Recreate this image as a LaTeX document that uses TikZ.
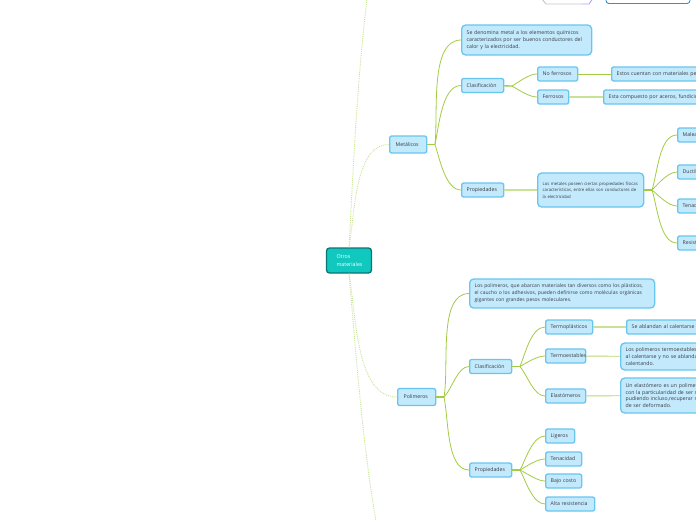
\documentclass[tikz,border=0pt]{standalone}
\usepackage{fontspec}
\setmainfont{Open Sans}
\definecolor{cajafondo}{HTML}{C2EAFC}
\definecolor{cajaborde}{HTML}{68C5EE}
\definecolor{raizfondo}{HTML}{10C8BE}
\definecolor{raizborde}{HTML}{0B7572}
\definecolor{letra}{HTML}{3C3C46}
\definecolor{rama}{HTML}{A2CC42}
\definecolor{ramaclara}{HTML}{C8E296}
\tikzset{
	caja/.style={draw=cajaborde, fill=cajafondo, line width=1.3pt, rounded corners=2pt, text=letra, font=\fontsize{5.2}{6.9}\selectfont, align=left, inner xsep=5pt, inner ysep=0pt, anchor=west, text width=#1pt-10pt, minimum height=14pt},
	cajagrande/.style={caja=#1, rounded corners=4pt},
	raiz/.style={draw=raizborde, fill=raizfondo, line width=1.3pt, rounded corners=3pt, text=white, font=\fontsize{5.3}{8}\selectfont, align=left, inner xsep=5pt, text width=35pt, minimum height=25pt},
	gajo/.style={rama, line width=0.8pt, looseness=0.75},
	tallo/.style={rama, line width=1.4pt},
	tallofino/.style={rama, line width=0.9pt},
	tallogrueso/.style={ramaclara, line width=1.8pt},
	punteado/.style={ramaclara, line width=0.9pt, densely dotted, looseness=0.8},
}
\begin{document}
\begin{tikzpicture}[x=1pt,y=-1pt]
	\useasboundingbox (0,0) rectangle (696,520);
	\clip (0,0) rectangle (696,520);
	
	% piezas cortadas arriba
	\draw[gray!45, line width=0.9pt] (542,-1) -- (546,4) -- (582,4);
	\draw[blue!35, line width=0.9pt] (582,4) -- (589,4) -- (592.5,-1);
	\node (sueltaazul) [draw={rgb,255:red,58;green,140;blue,200}, fill=white, line width=0.9pt, rounded corners=3pt, minimum width=84pt, minimum height=14pt] at (648,-3.5) {};
	
	\node (raiz) [raiz] at (349,260.5) {\hspace*{5pt}Otros\\\hspace*{5pt}materiales};
	
	\node (metalicos) [caja=37, minimum height=17pt] at (389,144.5) {\hspace*{1pt}Metálicos};
	\node (metdef) [cajagrande=130, minimum height=30pt] at (461,40) {Se denomina metal a los elementos químicos\\caracterizados por ser buenos conductores del\\calor y la electricidad.};
	\node (metcla) [caja=42] at (461,85.5) {Clasificación};
	\node (noferrosos) [caja=40] at (537,74) {No ferrosos};
	\node (ferrosos) [caja=31] at (537,97) {Ferrosos};
	\node (estos) [caja=110] at (611,74) {Estos cuentan con materiales per};
	\node (esta) [caja=120] at (603,97) {Esta compuesto por aceros, fundició};
	\node (metpro) [caja=42] at (461,190) {Propiedades};
	\node (metales) [cajagrande=106, minimum height=34pt, font=\fontsize{4.3}{6.6}\selectfont] at (537,190) {Los metales poseen ciertas propiedades físicas\\características, entre ellas son conductores de\\la electricidad};
	\node (maleable) [caja=40] at (677,135) {Malea};
	\node (ductil) [caja=40] at (677,172) {Ductil};
	\node (tenaz) [caja=40] at (677,206) {Tenac};
	\node (resist) [caja=40] at (677,243) {Resist};
	
	\node (polimeros) [caja=38, minimum height=17pt] at (397,397) {\hspace*{1pt}Polimeros};
	\node (poldef) [cajagrande=185, minimum height=29pt, font=\fontsize{5}{6.9}\selectfont] at (469,293.5) {Los polimeros, que abarcan materiales tan diversos como los plásticos,\\el caucho o los adhesivos, pueden definirse como moléculas orgánicas\\gigantes con grandes pesos moleculares.};
	\node (polcla) [caja=42] at (469,366.5) {Clasificación};
	\node (termopla) [caja=47] at (545,327) {Termoplásticos};
	\node (ablandan) [caja=100] at (626,327) {Se ablandan al calentarse};
	\node (termoest) [caja=40] at (545,356) {Termoestables};
	\node (termotxt) [cajagrande=110, minimum height=27pt] at (620,356.5) {Los polimeros termoestables\\al calentarse y no se ablandar\\calentando.};
	\node (elasto) [caja=40] at (545,396) {Elastómeros};
	\node (elastotxt) [cajagrande=110, minimum height=35pt] at (620,395.5) {Un elastómero es un polimet\\con la particularidad de ser m\\pudiendo incluso,recuperar s\\de ser deformado.};
	\node (polpro) [caja=42] at (469,470) {Propiedades};
	\node (ligeros) [caja=29] at (545,436) {Ligeros};
	\node (tenacidad) [caja=36] at (545,459) {Tenacidad};
	\node (bajo) [caja=36] at (545,481) {Bajo costo};
	\node (alta) [caja=49] at (545,504) {Alta resistencia};
	
	\coordinate (finarriba) at (367,-1);
	\coordinate (finabajo) at (376,521);
	\coordinate (horcamet) at (435,144.5);
	\coordinate (horcacla) at (512,86);
	\coordinate (horcaprop) at (652,190);
	\coordinate (horcapol) at (444,397);
	\coordinate (horcapolcla) at (520,366.5);
	\coordinate (horcapolpro) at (520,470);
	
	\draw[punteado] (raiz.north) to[out=87,in=263] (finarriba);
	\draw[punteado] (raiz.south) to[out=-85,in=100] (finabajo);
	\draw[punteado] (raiz.north) to[out=80,in=180] (metalicos.west);
	\draw[punteado] (raiz.south) to[out=-80,in=180] (polimeros.west);
	
	\draw[tallo] (metalicos) -- (horcamet);
	\draw[tallo] (metcla) -- (horcacla);
	\draw[tallo] (metales) -- (horcaprop);
	\draw[tallo] (polimeros) -- (horcapol);
	\draw[tallofino] (polcla) -- (horcapolcla);
	\draw[tallo] (polpro) -- (horcapolpro);
	\draw[tallofino] (noferrosos) -- (estos);
	\draw[tallogrueso] (ferrosos) -- (esta);
	\draw[tallogrueso] (metpro) -- (metales);
	\draw[tallogrueso] (termopla) -- (ablandan);
	\draw[tallofino, rama!75] (termoest) -- (termotxt);
	\draw[tallofino, rama!75] (elasto) -- (elastotxt);
	
	\foreach \hijo/\ang in {metdef/84, metcla/78, metpro/-72}
		\draw[gajo] (horcamet) to[out=\ang,in=180] (\hijo.west);
	\foreach \hijo/\ang in {noferrosos/30, ferrosos/-30}
		\draw[gajo] (horcacla) to[out=\ang,in=180] (\hijo.west);
	\foreach \hijo/\ang in {maleable/72, ductil/45, tenaz/-40, resist/-72}
		\draw[gajo] (horcaprop) to[out=\ang,in=180] (\hijo.west);
	\foreach \hijo/\ang in {poldef/80, polcla/45, polpro/-78}
		\draw[gajo] (horcapol) to[out=\ang,in=180] (\hijo.west);
	\foreach \hijo/\ang in {termopla/68, termoest/30, elasto/-50}
		\draw[gajo] (horcapolcla) to[out=\ang,in=180] (\hijo.west);
	\foreach \hijo/\ang in {ligeros/62, tenacidad/30, bajo/-25, alta/-62}
		\draw[gajo] (horcapolpro) to[out=\ang,in=180] (\hijo.west);
\end{tikzpicture}
\end{document}
